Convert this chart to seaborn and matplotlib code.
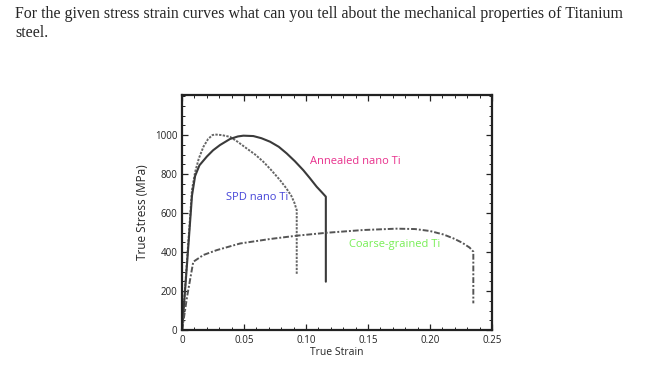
import numpy as np
import pandas as pd
import matplotlib
matplotlib.use("Agg")
import matplotlib.pyplot as plt
from matplotlib.ticker import MultipleLocator
import seaborn as sns

spd_strain = [0, 0.004, 0.008, 0.0105, 0.0135, 0.0172, 0.021, 0.0245, 0.0266, 0.032, 0.0387,
              0.045, 0.052, 0.059, 0.0656, 0.072, 0.079, 0.084, 0.088, 0.0905, 0.092, 0.0925,
              0.0925]
spd_stress = [0, 360, 720, 810, 880, 940, 980, 1000, 1003, 1000, 991, 965, 932, 900, 863,
              820, 769, 728, 690, 655, 625, 615, 282]

annealed_strain = [0, 0.004, 0.008, 0.0105, 0.014, 0.02, 0.025, 0.0306, 0.0387, 0.045, 0.0495,
                   0.0575, 0.064, 0.071, 0.078, 0.0844, 0.091, 0.0978, 0.103, 0.1086, 0.113,
                   0.116, 0.116]
annealed_stress = [0, 340, 690, 790, 845, 890, 922, 949, 980, 993, 997, 995, 984, 966, 940,
                   906, 866, 820, 780, 735, 705, 684, 248]

coarse_strain = [0, 0.004, 0.009, 0.0172, 0.028, 0.0468, 0.071, 0.0925, 0.1167, 0.146,
                 0.173, 0.188, 0.2, 0.211, 0.219, 0.226, 0.232, 0.235, 0.235]
coarse_stress = [0, 170, 350, 385, 410, 444, 467, 484, 499, 513, 520, 518, 508, 490, 470,
                 448, 423, 402, 137]

x_ticks = [0, 0.05, 0.10, 0.15, 0.20, 0.25]
x_labels = ["0", "0.05", "0.10", "0.15", "0.20", "0.25"]
y_ticks = [0, 200, 400, 600, 800, 1000]

sns.set_style("ticks")
plt.rcParams['font.family'] = ['Open Sans', 'DejaVu Sans']

fig = plt.figure(figsize=(6.55, 3.82), dpi=100)
fig.text(0.023, 0.963, "For the given stress strain curves what can you tell about the mechanical properties of Titanium",
         family="Liberation Serif", fontsize=11.4, va="center")
fig.text(0.023, 0.913, "steel.", family="Liberation Serif", fontsize=11.4, va="center")

ax = fig.add_axes([0.278, 0.136, 0.473, 0.615])

spd = pd.DataFrame({"strain": spd_strain, "stress": spd_stress})
ann = pd.DataFrame({"strain": annealed_strain, "stress": annealed_stress})
coa = pd.DataFrame({"strain": coarse_strain, "stress": coarse_stress})

sns.lineplot(data=spd, x="strain", y="stress", sort=False, estimator=None, ax=ax,
             color="#666666", lw=1.4, linestyle=(0, (1.2, 0.7)))
sns.lineplot(data=ann, x="strain", y="stress", sort=False, estimator=None, ax=ax,
             color="#3a3a3a", lw=1.5)
sns.lineplot(data=coa, x="strain", y="stress", sort=False, estimator=None, ax=ax,
             color="#555555", lw=1.4, linestyle=(0, (3, 1, 1, 1)))

ax.text(0.1395, 863, "Annealed nano Ti", color="#e8308c", fontsize=8, ha="center", va="center")
ax.text(0.0602, 682, "SPD nano Ti", color="#4545d8", fontsize=8, ha="center", va="center")
ax.text(0.1718, 441, "Coarse-grained Ti", color="#77ee55", fontsize=8, ha="center", va="center")

ax.set_xlim(0, 0.25)
ax.set_ylim(0, 1205)
ax.set_xticks(x_ticks)
ax.set_xticklabels(x_labels)
ax.set_yticks(y_ticks)
ax.xaxis.set_minor_locator(MultipleLocator(0.01))
ax.yaxis.set_minor_locator(MultipleLocator(50))
ax.tick_params(which="both", direction="in", top=True, right=True, labelsize=7, colors="#222222")
ax.tick_params(which="major", length=4, width=0.9)
ax.tick_params(which="minor", length=2, width=0.7)
for s in ax.spines.values():
    s.set_linewidth(1.6)
    s.set_color("#222222")
ax.set_xlabel("True Strain", fontsize=7.5, labelpad=1)
ax.set_ylabel("True Stress (MPa)", fontsize=8.5, labelpad=4)

fig.savefig("out.png", dpi=100)
